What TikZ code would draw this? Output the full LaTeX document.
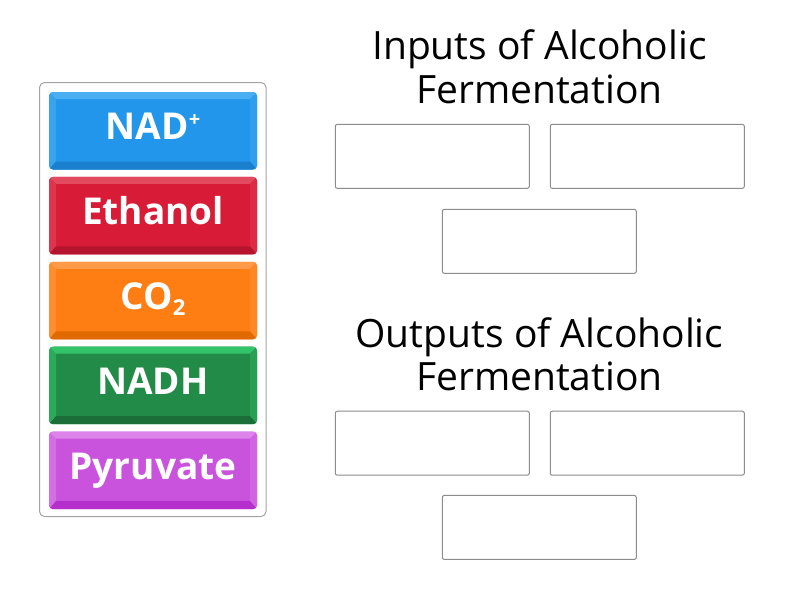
\documentclass[tikz,border=0pt]{standalone}
\usepackage{fontspec}
\setmainfont{Open Sans}
\usetikzlibrary{positioning}

\definecolor{nadtop}{HTML}{4AAFF2}
\definecolor{nadmid}{HTML}{2196EA}
\definecolor{nadbot}{HTML}{1A7FCC}
\definecolor{ethtop}{HTML}{E24A60}
\definecolor{ethmid}{HTML}{D81B36}
\definecolor{ethbot}{HTML}{B5152C}
\definecolor{cotop}{HTML}{FF9A48}
\definecolor{comid}{HTML}{FF7E14}
\definecolor{cobot}{HTML}{E06A00}
\definecolor{nadhtop}{HTML}{33C46A}
\definecolor{nadhmid}{HTML}{228B47}
\definecolor{nadhbot}{HTML}{1B6E38}
\definecolor{pyrtop}{HTML}{DC84EA}
\definecolor{pyrmid}{HTML}{C953DC}
\definecolor{pyrbot}{HTML}{B42FCB}
\definecolor{slotgray}{HTML}{8C8C8C}

\newcommand{\tilesup}[1]{\raisebox{13pt}{\fontsize{20}{20}\selectfont #1}}
\newcommand{\tilesub}[1]{\raisebox{-6pt}{\fontsize{22}{22}\selectfont #1}}

\tikzset{
  tile/.style n args={3}{
    minimum width=208pt, minimum height=77.5pt, inner sep=0pt,
    text height=26pt, text depth=8.4pt,
    rounded corners=4pt, fill=#2, text=white,
    font=\fontsize{37}{40}\selectfont\bfseries,
    path picture={
      \coordinate (tNW) at (path picture bounding box.north west);
      \coordinate (tNE) at (path picture bounding box.north east);
      \coordinate (tSW) at (path picture bounding box.south west);
      \coordinate (tSE) at (path picture bounding box.south east);
      % bevel edges
      \fill[#1, sharp corners] (tNW) -- (tNE) -- ([shift={(-7pt,-7pt)}]tNE) -- ([shift={(7pt,-7pt)}]tNW) -- cycle;
      \fill[#1!55!#2, sharp corners] (tNW) -- ([shift={(7pt,-7pt)}]tNW) -- ([shift={(7pt,8pt)}]tSW) -- (tSW) -- cycle;
      \fill[#1!35!#2, sharp corners] (tNE) -- ([shift={(-7pt,-7pt)}]tNE) -- ([shift={(-7pt,8pt)}]tSE) -- (tSE) -- cycle;
      \fill[#3, sharp corners] (tSW) -- ([shift={(7pt,8pt)}]tSW) -- ([shift={(-7pt,8pt)}]tSE) -- (tSE) -- cycle;
    }},
  slot/.style={draw=slotgray, line width=1pt, rounded corners=2pt, fill=white,
    minimum width=194pt, minimum height=64pt},
  heading/.style={align=center, font=\fontsize{39}{43.5}\selectfont, text=black},
  panel/.style={draw=slotgray!80, line width=1pt, rounded corners=5pt, fill=white}
}

\begin{document}
\begin{tikzpicture}[x=1pt, y=-1pt, node distance=7pt]
  \useasboundingbox (0,0) rectangle (800,600);
  %\fill[white] (0,0) rectangle (800,600);
  \draw[panel] (39.5,82.5) rectangle (266,516.5);

  \node[tile={nadtop}{nadmid}{nadbot}] (nad) at (153,130.75) {NAD\tilesup{+}};
  \node[tile={ethtop}{ethmid}{ethbot}, below=of nad] (eth) {Ethanol};
  \node[tile={cotop}{comid}{cobot}, below=of eth] (cotwo) {CO\tilesub{2}};
  \node[tile={nadhtop}{nadhmid}{nadhbot}, below=of cotwo] (nadh) {NADH};
  \node[tile={pyrtop}{pyrmid}{pyrbot}, below=of nadh] (pyr) {Pyruvate};

  \node[heading, anchor=base] (intitle) at (539.5,103) {Inputs of Alcoholic\\Fermentation};
  \node[slot] (inone) at (432.3,156.3) {};
  \node[slot] (intwo) at (647.3,156.3) {};
  \node[slot] (inthree) at (539.3,241.3) {};

  \node[heading, anchor=base] (outtitle) at (539.5,390.7) {Outputs of Alcoholic\\Fermentation};
  \node[slot] (outone) at (432.3,443.2) {};
  \node[slot] (outtwo) at (647.3,443.2) {};
  \node[slot] (outthree) at (539.3,527.4) {};
\end{tikzpicture}
\end{document}
